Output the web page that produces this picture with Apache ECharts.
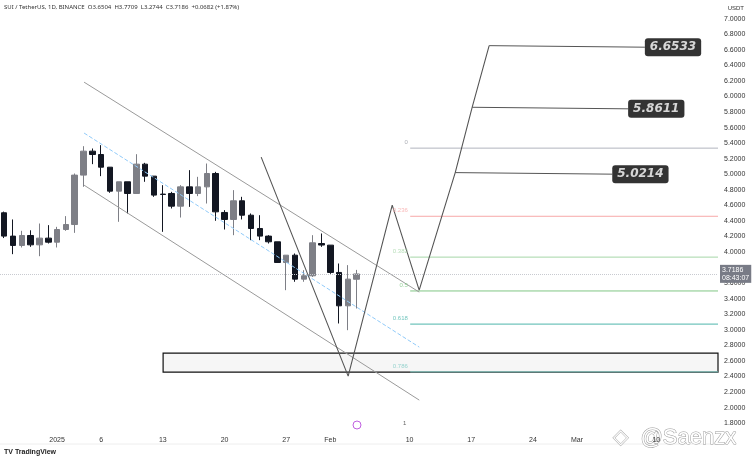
<!DOCTYPE html>
<html><head><meta charset="utf-8">
<script src="https://cdn.jsdelivr.net/npm/echarts@6/dist/echarts.min.js"></script>
<style>html,body{margin:0;padding:0;background:#fff}#c{width:752px;height:461px}</style>
</head><body><div id="c"></div>
<script>
// day index: 0 = 2025-01-01
const days = [];
for (let d = -6; d <= 34; d++) days.push(d);
const opens  = [4.505,4.205,4.085,4.213,4.093,4.179,4.127,4.29,4.354,4.989,5.297,5.254,5.091,4.783,4.903,4.753,5.13,4.976,4.745,4.753,4.59,4.838,4.753,4.838,5.01,4.509,4.419,4.659,4.474,4.303,4.205,4.132,3.866,3.96,3.652,3.695,4.11,4.089,3.738,3.309,3.6504];
const closes = [4.205,4.085,4.213,4.093,4.179,4.127,4.29,4.354,4.989,5.297,5.254,5.091,4.783,4.903,4.753,5.13,4.976,4.732,4.74,4.59,4.838,4.753,4.838,5.01,4.517,4.419,4.659,4.474,4.303,4.205,4.132,3.866,3.96,3.652,3.695,4.119,4.09,3.738,3.309,3.652,3.7186];
const lows   = [4.18,3.973,4.059,4.067,3.947,4.11,4.059,4.273,4.247,4.839,5.13,4.976,4.762,4.389,4.496,4.753,4.903,4.71,4.26,4.56,4.444,4.581,4.719,4.624,4.402,4.29,4.217,4.419,4.153,4.153,4.11,3.866,3.51,3.618,3.618,3.68,4.067,3.72,3.082,2.996,3.2744];
const highs  = [4.52,4.419,4.273,4.28,4.367,4.346,4.324,4.462,5.01,5.361,5.331,5.374,5.091,4.903,4.903,5.258,5.147,4.976,4.86,4.774,4.86,5.053,4.967,5.138,5.031,4.539,4.796,4.71,4.496,4.474,4.217,4.132,3.96,3.982,3.767,4.217,4.239,4.089,3.853,3.832,3.7709];
const xTickDays = [0,5,12,19,26,31,40,47,54,59,68];
const xTickLabels = ['2025','6','13','20','27','Feb','10','17','24','Mar','10'];
const yTicks = [];
for (let v = 18; v <= 70; v += 2) yTicks.push(v / 10);
const channelUpper = [[3.06,6.184],[41.1,3.485]];
const channelLower = [[3.06,4.86],[41.1,2.097]];
const channelMid   = [[3.06,5.53],[41.1,2.778]];
const pathX = [23.16,33.03,38.03,41.09,45.18,47.1,49.03];
const pathY = [5.22,2.405,4.603,3.51,5.0214,5.8611,6.6533];
const targets = [5.0214,5.8611,6.6533];
const targetStart = [45.18,47.1,49.03];
const targetEnd = [63.0,64.8,66.7];
const fibNames = ['0','0.236','0.382','0.5','0.618','0.786'];
const fibValues = [5.336,4.46,3.935,3.5,3.074,2.46];
const fibColors = ['#b2b5be','#f7a8a8','#a5d6a7','#81c784','#4db6ac','#80cbc4'];
const zone = [2.457,2.70];
const lastPrice = 3.7186;

const candle = days.map((d,i)=>[d,opens[i],closes[i],lows[i],highs[i]]);
const pathData = pathX.map((x,i)=>[x,pathY[i]]);
const series = [
 {type:'candlestick',data:candle,encode:{x:0,y:[1,2,3,4]},barWidth:6,
  itemStyle:{color:'#7e7f86',color0:'#131722',borderColor:'#7e7f86',borderColor0:'#131722',borderWidth:1},
  markLine:{silent:true,symbol:'none',data:[{yAxis:lastPrice}],
   lineStyle:{color:'#c8cad0',type:'dotted',width:1},
   label:{position:'end',formatter:'3.7186\n08:43:07',backgroundColor:'#787b86',color:'#fff',fontSize:7,padding:[1,2],lineHeight:8,distance:2}},
  markArea:{silent:true,itemStyle:{color:'#f6f6f6',borderColor:'#111',borderWidth:1.2},
   data:[[{coord:[12.03,zone[1]]},{coord:[75,zone[0]]}]]}
 },
 {type:'line',data:channelUpper,symbol:'none',lineStyle:{color:'#9a9a9a',width:1},z:3},
 {type:'line',data:channelLower,symbol:'none',lineStyle:{color:'#9a9a9a',width:1},z:3},
 {type:'line',data:channelMid,symbol:'none',lineStyle:{color:'#90caf9',width:1,type:'dashed'},z:3},
 {type:'line',data:pathData,symbol:'none',lineStyle:{color:'#555',width:1.1},z:5}
];
fibValues.forEach((v,i)=>{
 series.push({type:'line',data:[[40.07,v],[75,v]],symbol:'none',lineStyle:{color:fibColors[i],width:1},z:2});
 series.push({type:'scatter',data:[[39.8,v+0.07]],symbolSize:0,z:6,
  label:{show:true,position:'left',formatter:fibNames[i],color:fibColors[i]==='#b2b5be'?'#9598a1':fibColors[i],fontSize:6,distance:0}});
});
targets.forEach((v,i)=>{
 series.push({type:'line',data:[[targetStart[i],v],[targetEnd[i],v-0.02]],symbol:'none',lineStyle:{color:'#555',width:1},z:5});
 series.push({type:'scatter',data:[[targetEnd[i],v-0.02]],symbolSize:0,z:7,
  label:{show:true,position:'right',distance:0,formatter:v.toFixed(4),backgroundColor:'#000',color:'#fff',
   fontSize:12,fontWeight:'bold',fontStyle:'italic',fontFamily:'DejaVu Sans',padding:[3,5],borderRadius:3}});
});

const chart = echarts.init(document.getElementById('c'));
chart.setOption({
 animation:false,
 grid:{left:0,right:34,top:7,bottom:30},
 xAxis:{type:'value',min:-6.48,max:75,splitLine:{show:false},axisLine:{show:false},
  axisTick:{show:false},
  axisLabel:{customValues:xTickDays,formatter:v=>xTickLabels[xTickDays.indexOf(v)],fontSize:7,color:'#333',margin:6}},
 yAxis:{type:'value',position:'right',min:1.7,max:7.15,splitLine:{show:false},axisLine:{show:false},axisTick:{show:false},
  axisLabel:{customValues:yTicks,formatter:v=>v.toFixed(4),fontSize:7,color:'#333',margin:6}},
 series:series,
 graphic:[
  {type:'text',left:4,top:4,style:{text:'SUI / TetherUS, 1D, BINANCE  O3.6504  H3.7709  L3.2744  C3.7186  +0.0682 (+1.87%)',fontSize:6,fill:'#333',fontFamily:'Noto Sans'}},
  {type:'text',right:8,top:5,style:{text:'USDT',fontSize:6,fill:'#333'}},
  {type:'line',shape:{x1:0,y1:444,x2:718,y2:444},style:{stroke:'#eee'}},
  {type:'text',left:4,top:449,style:{text:'TV TradingView',fontSize:7,fill:'#222',fontWeight:'bold'}},
  {type:'circle',shape:{cx:357,cy:425,r:4},style:{fill:'#fff',stroke:'#c060e0',lineWidth:1}},
  {type:'text',left:403,top:420,style:{text:'1',fontSize:6,fill:'#666'}},
  {type:'text',left:612,top:427,style:{text:'◇',fontSize:20,fill:'#fff',stroke:'#aaa',lineWidth:1}},
  {type:'text',left:640,top:426,style:{text:'@Saenzx',fontSize:22,fill:'#fff',stroke:'#999',lineWidth:1,fontFamily:'Liberation Sans'}}
 ]
});
</script></body></html>
